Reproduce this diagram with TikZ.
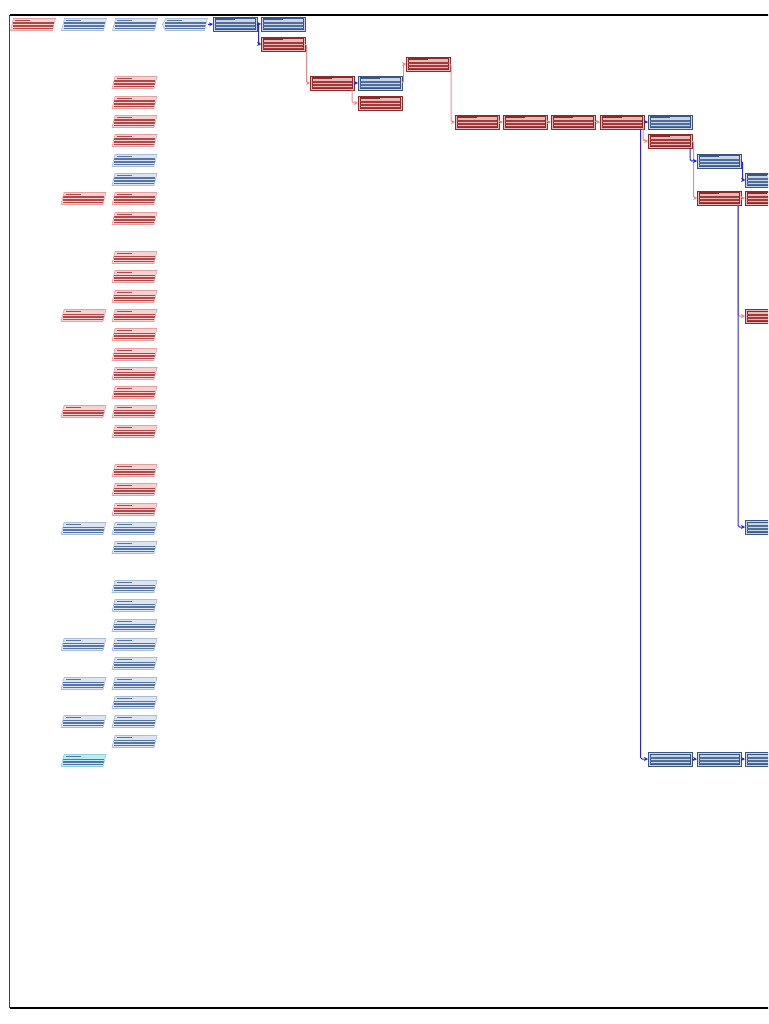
\documentclass[tikz,border=0pt]{standalone}
\usetikzlibrary{arrows.meta,calc}
\definecolor{rdark}{HTML}{8C2A2A}
\definecolor{rlight}{HTML}{E9B8B8}
\definecolor{rstripe}{HTML}{A33A3A}
\definecolor{bdark}{HTML}{3A5580}
\definecolor{blight}{HTML}{C8D5E8}
\definecolor{bstripe}{HTML}{4F6E9A}
\definecolor{prfill}{HTML}{F6D3D3}
\definecolor{prline}{HTML}{E7A0A0}
\definecolor{prstripe}{HTML}{B04848}
\definecolor{pbfill}{HTML}{DCE5F1}
\definecolor{pbline}{HTML}{A9BDD9}
\definecolor{pbstripe}{HTML}{5576A3}
\definecolor{pcfill}{HTML}{BDEBF2}
\definecolor{pcline}{HTML}{8FD3E3}
\definecolor{pcstripe}{HTML}{4F78A0}
\definecolor{conblue}{HTML}{2424E6}
\definecolor{conpink}{HTML}{F08888}
% decoration of a process box: #1 node, #2 dark, #3 stripe
\newcommand{\rdeco}[3]{%
 \begin{scope}[shift={(#1.north west)}]
 \draw[#2, line width=0.4pt] (1.7,1.7) rectangle (42.3,12.3);
 \fill[#2] (3,2.4) rectangle (22,3.3);
 \fill[#3] (2.3,5) rectangle (41.7,6.6);
 \fill[#3] (2.3,8) rectangle (41.7,9.6);
 \fill[#3] (2.3,10.8) rectangle (41.7,11.9);
 \end{scope}}
% parallelogram: #1 node, #2 fill, #3 border, #4 stripe
\newcommand{\pdeco}[4]{%
 \begin{scope}[shift={(#1.north west)}]
 \fill[#2] (3.5,0.5) -- (45.5,0.5) -- (42.5,12.5) -- (0.5,12.5) -- cycle;
 \begin{scope}
 \clip (3.5,0.5) -- (45.5,0.5) -- (42.5,12.5) -- (0.5,12.5) -- cycle;
 \fill[#4] (5,2) rectangle (20,2.9);
 \fill[#4] (2.5,4.5) rectangle (43.5,5.9);
 \fill[#4] (2.5,7.3) rectangle (43.5,8.7);
 \fill[#4] (2.5,10) rectangle (43.5,11.3);
 \end{scope}
 \draw[#3, line width=0.6pt] (3.5,0.5) -- (45.5,0.5) -- (42.5,12.5) -- (0.5,12.5) -- cycle;
 \end{scope}}
\newcommand{\hdeco}[4]{%
 \begin{scope}[shift={(#1.north west)}]
 \fill[#2] (0.5,6.5) -- (3.5,0.5) -- (45.5,0.5) -- (42.5,12.5) -- (3.5,12.5) -- cycle;
 \begin{scope}
 \clip (0.5,6.5) -- (3.5,0.5) -- (45.5,0.5) -- (42.5,12.5) -- (3.5,12.5) -- cycle;
 \fill[#4] (5,2) rectangle (20,2.9);
 \fill[#4] (2.5,4.5) rectangle (43.5,5.9);
 \fill[#4] (2.5,7.3) rectangle (43.5,8.7);
 \fill[#4] (2.5,10) rectangle (43.5,11.3);
 \end{scope}
 \draw[#3, line width=0.6pt] (0.5,6.5) -- (3.5,0.5) -- (45.5,0.5) -- (42.5,12.5) -- (3.5,12.5) -- cycle;
 \end{scope}}
\tikzset{
 boxbase/.style={rectangle, minimum width=44pt, minimum height=14pt, inner sep=0pt, outer sep=0pt, line width=0.9pt},
 rbox/.style={boxbase, draw=rdark, fill=rlight},
 bbox/.style={boxbase, draw=bdark, fill=blight},
 parbase/.style={rectangle, minimum width=46pt, minimum height=13pt, inner sep=0pt, outer sep=0pt},
 bcon/.style={draw=conblue, line width=1pt, rounded corners=1.5pt, -{Stealth[length=4pt,width=4pt]}},
 pcon/.style={draw=conpink, line width=1pt, rounded corners=1.5pt, -{Stealth[length=4pt,width=4pt]}}
}
\newcommand{\rnode}[2]{\node[rbox] (#1) at (#2) {}; \rdeco{#1}{rdark}{rstripe}}
\newcommand{\bnode}[2]{\node[bbox] (#1) at (#2) {}; \rdeco{#1}{bdark}{bstripe}}
\newcommand{\prnode}[2]{\node[parbase] (#1) at (#2) {}; \pdeco{#1}{prfill}{prline}{prstripe}}
\newcommand{\pbnode}[2]{\node[parbase] (#1) at (#2) {}; \pdeco{#1}{pbfill}{pbline}{pbstripe}}
\begin{document}
\begin{tikzpicture}[x=1pt,y=-1pt]
\useasboundingbox (0,0) rectangle (768,1024);
\clip (0,0) rectangle (768,1024);
\fill[white] (0,0) rectangle (768,1024);
% frame
\coordinate (ftl) at (9.5,15);
\coordinate (ftr) at (770,15);
\coordinate (fbl) at (9.5,1008);
\coordinate (fbr) at (770,1008);
\draw[line width=0.8pt, black!75] (ftl) -- (fbl);
\draw[line width=1.6pt, black] (ftl) -- (ftr);
\draw[line width=1.6pt, black] (fbl) -- (fbr);
% top row legend shapes
\prnode{p1}{33,24.5}
\pbnode{p2}{84,24.5}
\pbnode{p3}{135,24.5}
\node[parbase] (p4) at (185,24.5) {}; \hdeco{p4}{pbfill}{pbline}{pbstripe}
% left column 2
\foreach \t [count=\i] in {76,96,115,134,192,212,251,270,290,309,328,348,367,386,405,425,464,483,503}
  {\prnode{cr\i}{134.5,\t+6.5}}
\foreach \t [count=\i] in {154,173,522,541,580,599,619,638,657,677,696,715,735}
  {\pbnode{cb\i}{134.5,\t+6.5}}
% left column 1
\foreach \t [count=\i] in {192,309,405}
  {\prnode{lr\i}{83.5,\t+6.5}}
\foreach \t [count=\i] in {522,638,677,715}
  {\pbnode{lb\i}{83.5,\t+6.5}}
\node[parbase] (lc1) at (83.5,760.5) {}; \pdeco{lc1}{pcfill}{pcline}{pcstripe}
% process boxes
\bnode{b1}{235,24}
\bnode{b2}{283,24}
\rnode{r1}{283,44}
\rnode{r2}{332,83}
\bnode{b3}{380,83}
\rnode{r3}{380,103}
\rnode{r4}{428,64}
\rnode{r5}{477,122}
\rnode{r6}{525,122}
\rnode{r7}{573,122}
\rnode{r8}{622,122}
\bnode{b4}{670,122}
\rnode{r9}{670,141}
\bnode{b5}{719,161}
\rnode{r10}{719,198}
\bnode{b6}{767,180}
\rnode{r11}{767,198}
\rnode{r12}{767,316}
\bnode{b7}{767,527}
\bnode{b8}{670,759}
\bnode{b9}{719,759}
\bnode{b10}{767,759}
% connectors
\draw[bcon] (p4.east) -- (b1.west);
\draw[bcon] (b1.east) -- (b2.west);
\draw[bcon] (b1.east) -- ++(1.5,0) |- (r1.west);
\draw[pcon] (r1.east) -- ++(1.5,0) |- (r2.west);
\draw[bcon] (r2.east) -- (b3.west);
\draw[pcon] ($(r2.south east)+(-2,0)$) |- (r3.west);
\draw[pcon] (b3.east) -- ++(1.5,0) |- (r4.west);
\draw[pcon] (r4.east) -- ++(1,0) |- (r5.west);
\draw[pcon] (r5.east) -- (r6.west);
\draw[pcon] (r6.east) -- (r7.west);
\draw[pcon] (r7.east) -- (r8.west);
\draw[bcon] (r8.east) -- (b4.west);
\draw[pcon] ($(r8.south east)+(-1,0)$) |- (r9.west);
\draw[bcon] ($(r8.south east)+(-3.5,0)$) |- (b8.west);
\draw[pcon] (r9.east) -- ++(1.5,0) |- (r10.west);
\draw[bcon] ($(r9.south east)+(-2,0)$) |- (b5.west);
\draw[bcon] (b5.east) -- ++(1.5,0) |- (b6.west);
\draw[pcon] (r10.east) -- (r11.west);
\draw[pcon] ($(r10.south east)+(-3,0)$) |- (r12.west);
\draw[bcon] ($(r10.south east)+(-3,0)$) |- (b7.west);
\draw[bcon] (b8.east) -- (b9.west);
\draw[bcon] (b9.east) -- (b10.west);
\end{tikzpicture}
\end{document}
